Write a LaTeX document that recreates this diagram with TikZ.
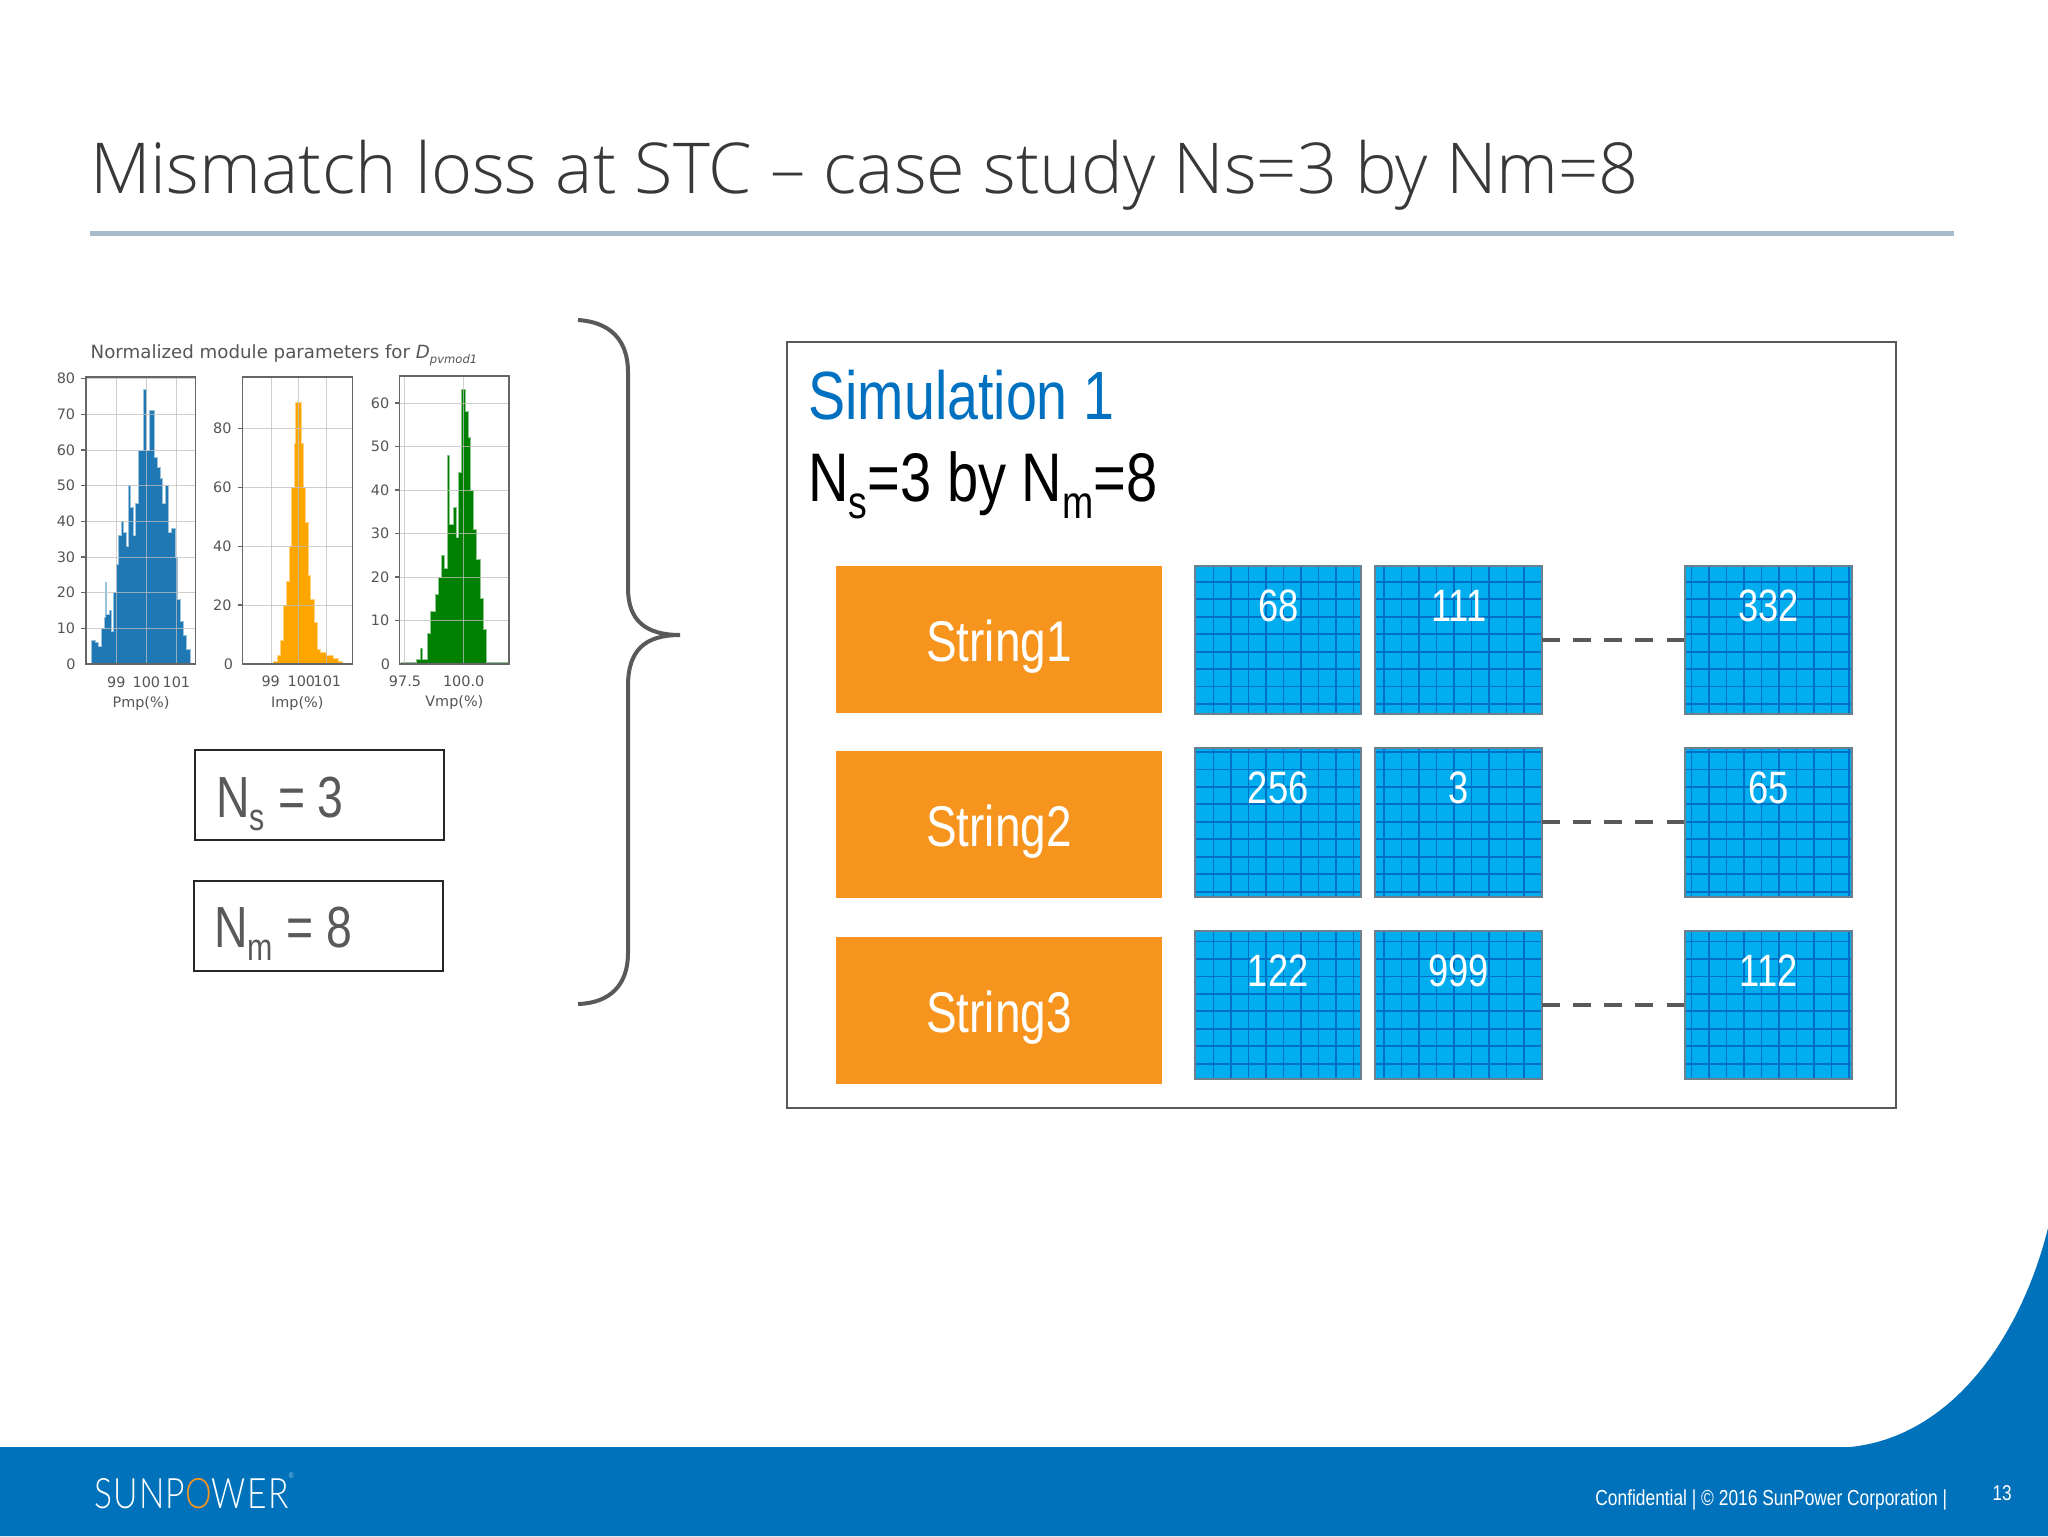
\documentclass[tikz,border=0pt]{standalone}
\usepackage{fontspec}
\setmainfont{Liberation Sans}
\newfontfamily\narrowfont[FakeStretch=0.80]{Liberation Sans}
\newfontfamily\simfont[FakeStretch=0.815]{Liberation Sans}
\newfontfamily\titlefont{Open Sans Light}
\newfontfamily\plotfont{DejaVu Sans}
\newfontfamily\logofont[FakeStretch=0.80,LetterSpace=3]{Lato Light}
\definecolor{titlecol}{HTML}{383838}
\definecolor{rulecol}{HTML}{A6BBCB}
\definecolor{barcol}{HTML}{0072BC}
\definecolor{strcol}{HTML}{F7941E}
\definecolor{pvfill}{HTML}{00ADEF}
\definecolor{pvline}{HTML}{0070C4}
\definecolor{pvedge}{HTML}{6C7F8C}
\definecolor{simblue}{HTML}{0070C0}
\definecolor{darkg}{HTML}{595959}
\definecolor{hblue}{HTML}{1F77B4}
\definecolor{horange}{HTML}{FFA500}
\definecolor{hgreen}{HTML}{008000}
\definecolor{plottext}{HTML}{555555}
\newcommand{\fs}[1]{\fontsize{#1}{#1}\selectfont}
\newcommand{\lowtext}[2]{\raisebox{-0.24em}{\fs{#1}#2}}
\tikzset{
  stringbox/.style={fill=strcol,draw=none,minimum width=163pt,minimum height=73.6pt,inner sep=0pt,outer sep=0pt,anchor=north west,text=white,font=\narrowfont\fs{28.7},text height=22pt,text depth=0pt},
  pvbox/.style={fill=pvfill,draw=none,minimum width=83.4pt,minimum height=74.25pt,inner sep=0pt,outer sep=0pt,anchor=north west},
  pvgrid/.style={draw=pvline,line width=.9pt},
  pvframe/.style={draw=pvedge,line width=1pt},
  pvlabel/.style={text=white,font=\narrowfont\fs{22.7},anchor=base,inner sep=0pt},
  dashlink/.style={draw=darkg,line width=2.2pt,dash pattern=on 8.9pt off 6.7pt},
  paramtext/.style={draw=black!85,line width=1.2pt,minimum width=124.5pt,minimum height=45pt,inner sep=0pt,anchor=north west},
  paramlabel/.style={text=darkg,font=\narrowfont\fs{29},anchor=base west,inner sep=0pt},
  ptick/.style={text=plottext,font=\plotfont\fs{7.2},inner sep=0pt},
  pframe/.style={draw=plottext!90,line width=.7pt},
  pgrid/.style={draw=black!25,line width=.5pt,opacity=.75},
}
\newcommand{\pvmod}[6]{%
  \node[pvbox] (#1) at (#2,#3) {};
  \begin{scope}
    \clip (#1.south west) rectangle (#1.north east);
    \foreach \i in {0,...,9} \draw[pvgrid] ({#2+#5+\i*17.5},#3) -- ++(0,150);
    \foreach \i in {0,...,8} \draw[pvgrid] (#2,{#3+#6+\i*17.45}) -- ++(168,0);
  \end{scope}
  \draw[pvframe] (#1.south west) rectangle (#1.north east);
  \node[pvlabel] (#1t) at ({#2+83.75},{#3+55.7}) {#4};
}
\begin{document}
\begin{tikzpicture}[x=.5pt,y=-.5pt]
\useasboundingbox (0,0) rectangle (2048,1536);
\fill[white] (0,0) rectangle (2048,1536);
% title
\node[anchor=base west,inner sep=0pt,text=titlecol,font=\titlefont\fs{35.1}] (title) at (90,193) {Mismatch loss at STC – case study Ns=3 by Nm=8};
\fill[rulecol] (90,231) rectangle (1954,236);
% footer
\fill[barcol] (0,1447) -- (1850,1447) .. controls (1950,1437) and (2020,1340) .. (2048,1228) -- (2048,1536) -- (0,1536) -- cycle;
\node[anchor=base west,inner sep=0pt,text=white,font=\logofont\fs{21}] (logo) at (94,1508) {SUNP\textcolor{strcol}{O}WER\raisebox{.7em}{\fs{4}®}};
\node[anchor=base west,inner sep=0pt,text=white,font=\narrowfont\fs{10.85}] (conf) at (1595,1505) {Confidential | © 2016 SunPower Corporation |};
\node[anchor=base,inner sep=0pt,text=white,font=\narrowfont\fs{10.7}] (pageno) at (2002,1500) {13};
% histograms
\begin{scope}[shift={(40,320)},x=.16667pt,y=-.16667pt]
  \node[anchor=base,inner sep=0pt,text=plottext,font=\plotfont\fs{9.1}] (ptitle) at (732,116) {Normalized module parameters for \textit{D}\raisebox{-.25em}{\fs{5.8}\textit{pvmod1}}};
  % panel 1
  \begin{scope}[shift={(0,1032)},y=1.783pt]
    \fill[hblue,draw=hblue!45,line width=.5pt] (155,0) -- plot[const plot] coordinates {(155,6.5)(167,6)(175,5)(185,10)(193,13)(196,23)(200,14)(207,15)(215,9)(220,20)(228,28)(236,36)(243,40)(251,37)(259,33)(266,50)(272,44)(280,36)(286,45)(294,60)(302,60)(309,77)(320,60)(327,71)(344,58)(352,55)(362,52)(368,45)(376,50)(384,37)(395,38)(406,30)(412,18)(420,12)(430,8)(440,4)(450,2)(452,0)} -- cycle;
    \foreach \v in {10,20,...,80}{\draw[pgrid] (138,\v) -- (467,\v);\draw[pframe] (124,\v) -- (138,\v);\node[ptick] at (78,\v) {\v};}
    \node[ptick] (p1z) at (93,0) {0};
    \foreach \v in {229,318,408}{\draw[pgrid] (\v,0) -- (\v,80.5);}
    \draw[pframe] (138,0) rectangle (467,80.5);
    \node[ptick,text height=1ex] at (229,-5) {99};
    \node[ptick,text height=1ex] at (319,-5) {100};
    \node[ptick,text height=1ex] at (409,-5) {101};
    \node[ptick,text height=1ex] at (303,-11) {Pmp(\%)};
  \end{scope}
  % panel 2
  \begin{scope}[shift={(0,1032)},y=1.4708pt]
    \fill[horange,draw=horange!50,line width=.5pt] (700,0) -- plot[const plot] coordinates {(700,1)(712,3)(722,8)(730,20)(740,28)(748,40)(755,60)(762,75)(767,89)(785,75)(790,60)(797,48)(805,30)(812,22)(822,14)(832,5)(842,4)(860,3)(880,2)(895,1)(908,0)} -- cycle;
    \foreach \v in {20,40,60,80}{\draw[pgrid] (608,\v) -- (937,\v);\draw[pframe] (594,\v) -- (608,\v);\node[ptick] at (547,\v) {\v};}
    \node[ptick] at (565,0) {0};
    \foreach \v in {693,775,858}{\draw[pgrid] (\v,0) -- (\v,97.6);}
    \draw[pframe] (608,0) rectangle (937,97.6);
    \node[ptick,text height=1ex] at (692,-6) {99};
    \node[ptick,text height=1ex] at (784,-6) {100};
    \node[ptick,text height=1ex] at (862,-6) {101};
    \node[ptick,text height=1ex] at (772,-13.5) {Imp(\%)};
  \end{scope}
  % panel 3
  \begin{scope}[shift={(0,1032)},y=2.175pt]
    \fill[hgreen,draw=hgreen!45,line width=.5pt] (1085,0) -- plot[const plot] coordinates {(1085,.4)(1128,1)(1140,3.5)(1146,1)(1162,7)(1172,12)(1185,16)(1195,20)(1204,25)(1212,22)(1222,48)(1229,32)(1240,36)(1248,29)(1256,44)(1265,63)(1277,58)(1285,52)(1292,40)(1300,31)(1308,24)(1320,15)(1330,8)(1338,.4)(1400,.4)(1402,0)} -- cycle;
    \foreach \v in {10,20,...,60}{\draw[pgrid] (1078,\v) -- (1407,\v);\draw[pframe] (1064,\v) -- (1078,\v);\node[ptick] at (1020,\v) {\v};}
    \node[ptick] at (1036,0) {0};
    \foreach \v in {1092,1271}{\draw[pgrid] (\v,0) -- (\v,66.2);}
    \draw[pframe] (1078,0) rectangle (1407,66.2);
    \node[ptick,text height=1ex] at (1095,-4) {97.5};
    \node[ptick,text height=1ex] at (1271,-4) {100.0};
    \node[ptick,text height=1ex] at (1243,-9) {Vmp(\%)};
  \end{scope}
\end{scope}
% parameter boxes
\node[paramtext] (nsbox) at (194,749) {};
\node[paramlabel] (nstext) at (216,817) {N\lowtext{19}{s} = 3};
\node[paramtext] (nmbox) at (192.5,879.5) {};
\node[paramlabel] (nmtext) at (214,947) {N\lowtext{19}{m} = 8};
% brace
\draw[darkg,line width=2pt] (578,320) .. controls (610,322) and (628,340) .. (628,372) -- (628,588) .. controls (628,620) and (645,635) .. (680,635) .. controls (645,635) and (628,650) .. (628,686) -- (628,953) .. controls (628,985) and (610,1003) .. (578,1004);
% simulation frame
\node[draw=darkg,line width=1pt,minimum width=554.5pt,minimum height=383pt,inner sep=0pt,anchor=north west] (simbox) at (786,341) {};
\node[anchor=base west,inner sep=0pt,text=simblue,font=\simfont\fs{34.1}] (simtitle) at (808,419) {Simulation 1};
\node[anchor=base west,inner sep=0pt,text=black,font=\simfont\fs{34.4}] (simsub) at (808,501.5) {N\lowtext{23}{s}=3 by N\lowtext{23}{m}=8};
% strings
\node[stringbox] (s1) at (836,565.5) {String1};
\node[stringbox] (s2) at (836,751) {String2};
\node[stringbox] (s3) at (836,936.5) {String3};
% modules
\pvmod{ma}{1194.5}{565.5}{68}{19}{16.3}
\pvmod{mb}{1375}{565.5}{111}{9}{16.3}
\pvmod{mc}{1685}{565.5}{332}{6.5}{16.3}
\pvmod{md}{1194.5}{748}{256}{19}{4}
\pvmod{me}{1375}{748}{3}{9}{4}
\pvmod{mf}{1685}{748}{65}{6.5}{4}
\pvmod{mg}{1194.5}{930.5}{122}{19}{11}
\pvmod{mh}{1375}{930.5}{999}{9}{11}
\pvmod{mi}{1685}{930.5}{112}{6.5}{11}
\draw[dashlink] (mb.east) -- (mc.west);
\draw[dashlink] (me.east) -- (mf.west);
\draw[dashlink] (mh.east) -- (mi.west);
\end{tikzpicture}
\end{document}
